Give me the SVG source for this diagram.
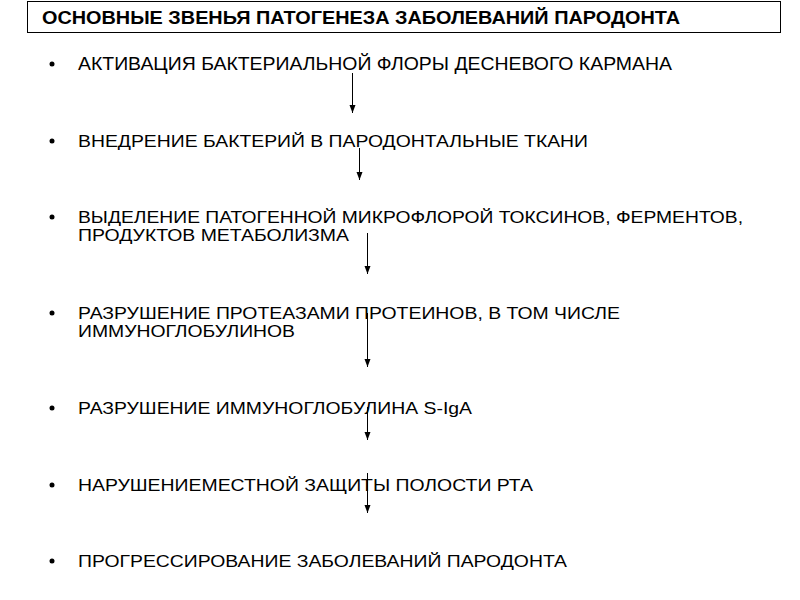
<svg xmlns="http://www.w3.org/2000/svg" width="800" height="600" viewBox="0 0 800 600">
<defs>
<marker id="ah" viewBox="0 0 8 8" refX="8" refY="4" markerWidth="8" markerHeight="8" markerUnits="userSpaceOnUse" orient="auto">
<path d="M0,1 L8,4 L0,7 Z" fill="#000"/>
</marker>
<style>
.t{font-family:"Liberation Sans",Arial,sans-serif;font-size:16.5px;fill:#000}
.h{font-family:"Liberation Sans",Arial,sans-serif;font-size:18px;font-weight:bold;fill:#000}
.b{fill:#000}
.c{stroke:#000;stroke-width:1;fill:none;marker-end:url(#ah)}
</style>
</defs>
<rect width="800" height="600" fill="#fff"/>
<g id="title">
<rect x="27.5" y="1.5" width="753" height="31" fill="#fff" stroke="#000" stroke-width="1"/>
<text class="h" x="42" y="24" textLength="638" lengthAdjust="spacingAndGlyphs">ОСНОВНЫЕ ЗВЕНЬЯ ПАТОГЕНЕЗА ЗАБОЛЕВАНИЙ ПАРОДОНТА</text>
</g>
<g id="item1">
<circle class="b" cx="52" cy="64" r="2.5"/>
<text class="t" x="78" y="70" textLength="594" lengthAdjust="spacingAndGlyphs" style="font-size:17.5px">АКТИВАЦИЯ БАКТЕРИАЛЬНОЙ ФЛОРЫ ДЕСНЕВОГО КАРМАНА</text>
</g>
<g id="item2">
<circle class="b" cx="52" cy="141" r="2.5"/>
<text class="t" x="78" y="147" textLength="510" lengthAdjust="spacingAndGlyphs">ВНЕДРЕНИЕ БАКТЕРИЙ В ПАРОДОНТАЛЬНЫЕ ТКАНИ</text>
</g>
<g id="item3">
<circle class="b" cx="52" cy="217" r="2.5"/>
<text class="t" x="78" y="223" textLength="665" lengthAdjust="spacingAndGlyphs">ВЫДЕЛЕНИЕ ПАТОГЕННОЙ МИКРОФЛОРОЙ ТОКСИНОВ, ФЕРМЕНТОВ,</text>
<text class="t" x="78" y="241" textLength="271" lengthAdjust="spacingAndGlyphs">ПРОДУКТОВ МЕТАБОЛИЗМА</text>
</g>
<g id="item4">
<circle class="b" cx="52" cy="313" r="2.5"/>
<text class="t" x="78" y="319" textLength="542" lengthAdjust="spacingAndGlyphs">РАЗРУШЕНИЕ ПРОТЕАЗАМИ ПРОТЕИНОВ, В ТОМ ЧИСЛЕ</text>
<text class="t" x="78" y="337" textLength="217" lengthAdjust="spacingAndGlyphs">ИММУНОГЛОБУЛИНОВ</text>
</g>
<g id="item5">
<circle class="b" cx="52" cy="408" r="2.5"/>
<text class="t" x="78" y="414" textLength="394" lengthAdjust="spacingAndGlyphs">РАЗРУШЕНИЕ ИММУНОГЛОБУЛИНА S-IgA</text>
</g>
<g id="item6">
<circle class="b" cx="52" cy="485" r="2.5"/>
<text class="t" x="78" y="491" textLength="455" lengthAdjust="spacingAndGlyphs">НАРУШЕНИЕМЕСТНОЙ ЗАЩИТЫ ПОЛОСТИ РТА</text>
</g>
<g id="item7">
<circle class="b" cx="52" cy="561" r="2.5"/>
<text class="t" x="78" y="567" textLength="489" lengthAdjust="spacingAndGlyphs">ПРОГРЕССИРОВАНИЕ ЗАБОЛЕВАНИЙ ПАРОДОНТА</text>
</g>
<g id="connectors">
<line class="c" x1="352.5" y1="73" x2="352.5" y2="113"/>
<line class="c" x1="359.5" y1="148" x2="359.5" y2="180"/>
<line class="c" x1="367.5" y1="233" x2="367.5" y2="274"/>
<line class="c" x1="367.5" y1="313" x2="367.5" y2="367"/>
<line class="c" x1="367.5" y1="407" x2="367.5" y2="440"/>
<line class="c" x1="367.5" y1="473" x2="367.5" y2="513"/>
</g>
</svg>
